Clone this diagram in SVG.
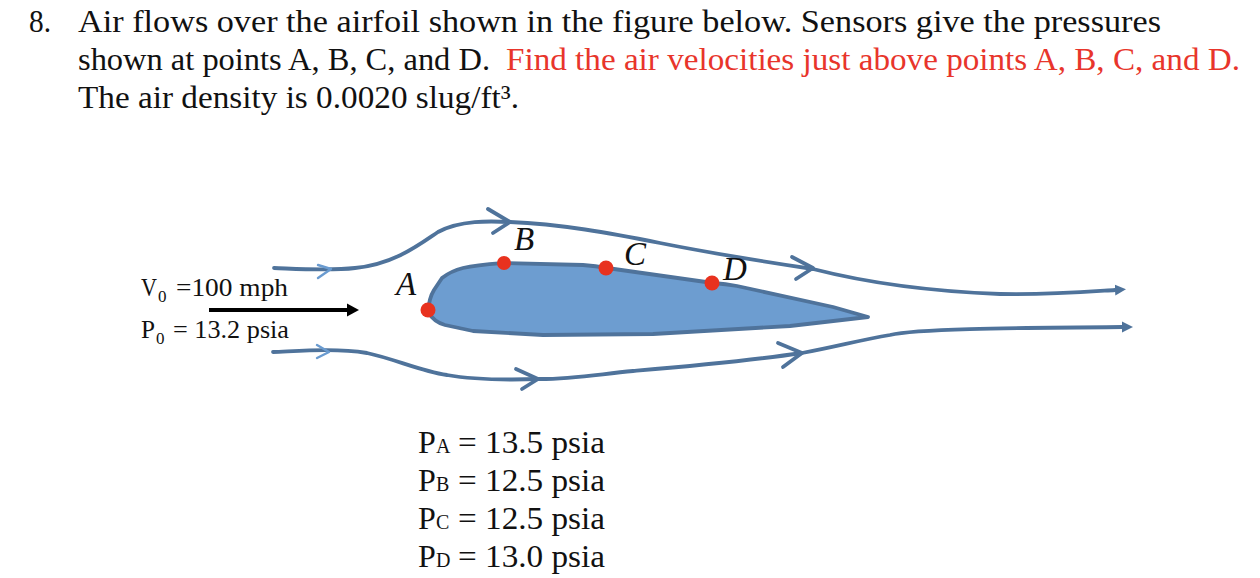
<svg xmlns="http://www.w3.org/2000/svg" width="1260" height="578" viewBox="0 0 1260 578">
<style>
text{font-family:"Liberation Serif","Times New Roman",serif;fill:#111}
.q{font-size:32px}
.red{fill:#e8352b}
.g{font-size:26px}
.sub{font-size:17px}
.sub2{font-size:20px}
.lab{font-size:33px;font-style:italic}
.s{fill:none;stroke:#4f739b;stroke-width:3.8;stroke-linecap:round;stroke-linejoin:round}
.ch{fill:none;stroke:#4f739b;stroke-width:3.8;stroke-linecap:round;stroke-linejoin:round}
.cl{fill:none;stroke:#6a9bd0;stroke-width:2.4;stroke-linecap:round;stroke-linejoin:round}
.dot{fill:#e8321f}
</style>
<defs>
<marker id="tri" markerUnits="userSpaceOnUse" markerWidth="12" markerHeight="12" refX="0" refY="6" orient="auto"><path d="M0,0.5 L11,6 L0,11.5 Z" fill="#4f739b"/></marker>
</defs>
<rect width="1260" height="578" fill="#fff"/>
<g id="question">
<text class="q" x="29" y="32" textLength="22" lengthAdjust="spacingAndGlyphs">8.</text>
<text class="q" x="78" y="32" textLength="1083" lengthAdjust="spacingAndGlyphs">Air flows over the airfoil shown in the figure below. Sensors give the pressures</text>
<text class="q" x="78" y="70" textLength="412" lengthAdjust="spacingAndGlyphs">shown at points A, B, C, and D.</text>
<text class="q red" x="506" y="70" textLength="734" lengthAdjust="spacingAndGlyphs">Find the air velocities just above points A, B, C, and D.</text>
<text class="q" x="78" y="108" textLength="441" lengthAdjust="spacingAndGlyphs">The air density is 0.0020 slug/ft³.</text>
</g>
<g id="airfoil">
<path d="M428,312 Q429,298 434,290 L442,278 Q451,271 463,268 C476,265 490,264 503,263 L583,265 Q596,266 607,268 L713,283 Q726,284 737,286 L833,307 L868,317 L790,326 L653,334 L543,335 L473,331 L445,325 Q434,322 428,312 Z" fill="#6d9dd0" stroke="#4f739b" stroke-width="3.800" stroke-linejoin="round"/>
</g>
<g id="connectors">
<path id="stream-top" class="s" marker-end="url(#tri)" d="M274,268 C300,269 330,271 355,268 C395,264 420,244 438,232 C460,220 490,221 510,222 C560,224 610,233 660,243 C710,253 760,261 813,269 C860,281 920,291 1000,294 C1050,295 1085,292 1115,290"/>
<path id="stream-bottom" class="s" marker-end="url(#tri)" d="M273,352 C300,351 335,348 367,353 C395,359 420,371 447,375 C475,380 510,380 540,379 C575,379 600,374 633,371 C680,367 740,362 802,353 C835,347 860,340 890,335 C915,329 1000,328 1122,327"/>
<path class="ch" d="M488,209 L510,222 L493,233"/>
<path class="ch" d="M792,257 L813,268 L796,279"/>
<path class="ch" d="M516,369 L538,379 L522,389"/>
<path class="ch" d="M778,343 L802,353 L783,367"/>
<path class="cl" d="M318,265 L331,269 L318,278"/>
<path class="cl" d="M317,345 L329,352 L317,358"/>
<path id="inflow" d="M209,310 L348,310" stroke="#000" stroke-width="4" fill="none"/>
<path d="M347,303.500 L359,310 L347,316.500 Z" fill="#000"/>
</g>
<g id="point-a"><circle class="dot" cx="428" cy="310" r="7.500"/><text class="lab" x="396" y="295">A</text></g>
<g id="point-b"><circle class="dot" cx="504" cy="263" r="7"/><text class="lab" x="514" y="250">B</text></g>
<g id="point-c"><circle class="dot" cx="606" cy="268" r="7.500"/><text class="lab" x="624" y="265">C</text></g>
<g id="point-d"><circle class="dot" cx="712" cy="283" r="7.500"/><text class="lab" x="723" y="280">D</text></g>
<g id="freestream">
<text class="g" x="141" y="296" textLength="16" lengthAdjust="spacingAndGlyphs">V</text><text class="sub" x="158" y="302">0</text>
<text class="g" x="176" y="296" textLength="112" lengthAdjust="spacingAndGlyphs">=100 mph</text>
<text class="g" x="141" y="338" textLength="14" lengthAdjust="spacingAndGlyphs">P</text><text class="sub" x="156" y="344">0</text>
<text class="g" x="173" y="338" textLength="116" lengthAdjust="spacingAndGlyphs">= 13.2 psia</text>
</g>
<g id="pressures">
<text class="q" x="418" y="453">P</text><text class="sub2" x="436" y="453">A</text><text class="q" x="458" y="453" textLength="147" lengthAdjust="spacingAndGlyphs">= 13.5 psia</text>
<text class="q" x="418" y="491">P</text><text class="sub2" x="436" y="491">B</text><text class="q" x="458" y="491" textLength="147" lengthAdjust="spacingAndGlyphs">= 12.5 psia</text>
<text class="q" x="418" y="529">P</text><text class="sub2" x="436" y="529">C</text><text class="q" x="458" y="529" textLength="147" lengthAdjust="spacingAndGlyphs">= 12.5 psia</text>
<text class="q" x="418" y="567">P</text><text class="sub2" x="436" y="567">D</text><text class="q" x="458" y="567" textLength="147" lengthAdjust="spacingAndGlyphs">= 13.0 psia</text>
</g>
</svg>
